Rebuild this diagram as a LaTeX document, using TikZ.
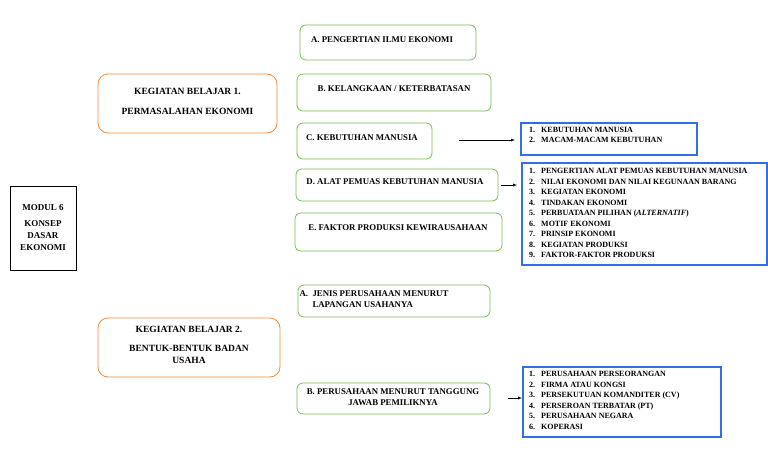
\documentclass[tikz,border=0pt]{standalone}
\usepackage{fontspec}
\setmainfont{Liberation Serif}
\definecolor{gb}{RGB}{120,190,80}
\definecolor{ob}{RGB}{240,140,60}
\definecolor{bb}{RGB}{50,110,230}
\begin{document}
\begin{tikzpicture}[x=1pt,y=-1pt,
  g/.style={draw=gb,line width=0.8pt,rounded corners=6pt},
  o/.style={draw=ob,line width=0.8pt,rounded corners=10pt},
  bl/.style={draw=bb,line width=1.2pt},
  t/.style={font=\fontsize{8.8}{11}\selectfont\bfseries,align=center},
  ls/.style={font=\fontsize{8}{10.5}\selectfont\bfseries,align=left,anchor=north west,inner sep=0pt},
  ar/.style={-latex,line width=0.4pt}]
\useasboundingbox (0,0) rectangle (768,466);
\fill[white] (0,0) rectangle (768,466);
\draw[line width=0.8pt] (10,186) rectangle (76,270);
\node[t,font=\fontsize{9}{12}\selectfont\bfseries] (m) at (43,228) {MODUL 6\\[4pt]KONSEP\\DASAR\\EKONOMI};
\draw[o] (98,74) rectangle (277,133);
\node[t,font=\fontsize{9.5}{20}\selectfont\bfseries] (k1) at (187.5,101) {KEGIATAN BELAJAR 1.\\PERMASALAHAN EKONOMI};
\draw[o] (98,318) rectangle (280,377);
\node[t,font=\fontsize{9.5}{12}\selectfont\bfseries] (k2) at (189,345) {KEGIATAN BELAJAR 2.\\[7pt]BENTUK-BENTUK BADAN\\USAHA};
\draw[g] (300,25) rectangle (476,60);
\node[t] (a) at (382,40) {A. PENGERTIAN ILMU EKONOMI};
\draw[g] (297,74) rectangle (491,111);
\node[t] (b) at (394,89) {B. KELANGKAAN / KETERBATASAN};
\draw[g] (297,123) rectangle (432,159);
\node[t] (c) at (362,138) {C. KEBUTUHAN MANUSIA};
\draw[g] (296,169) rectangle (498,201);
\node[t] (d) at (395,182) {D. ALAT PEMUAS KEBUTUHAN MANUSIA};
\draw[g] (295,213) rectangle (502,251);
\node[t] (e) at (398,228) {E. FAKTOR PRODUKSI KEWIRAUSAHAAN};
\draw[g] (298,285) rectangle (490,317);
\node[t,align=left] (ja) at (374,299) {A.\ \ JENIS PERUSAHAAN MENURUT\\\phantom{A.\ \ }LAPANGAN USAHANYA};
\draw[g] (297,383) rectangle (490,414);
\node[t] (pb) at (393,397) {B. PERUSAHAAN MENURUT TANGGUNG\\JAWAB PEMILIKNYA};
\draw[bl] (521,123) rectangle (697,155);
\node[ls] (lc) at (529,127) {1.\ \ \ KEBUTUHAN MANUSIA\\2.\ \ \ MACAM-MACAM KEBUTUHAN};
\draw[bl] (522,163) rectangle (767,265);
\node[ls] (ld) at (529,168) {1.\ \ \ PENGERTIAN ALAT PEMUAS KEBUTUHAN MANUSIA\\2.\ \ \ NILAI EKONOMI DAN NILAI KEGUNAAN BARANG\\3.\ \ \ KEGIATAN EKONOMI\\4.\ \ \ TINDAKAN EKONOMI\\5.\ \ \ PERBUATAAN PILIHAN (\textit{ALTERNATIF})\\6.\ \ \ MOTIF EKONOMI\\7.\ \ \ PRINSIP EKONOMI\\8.\ \ \ KEGIATAN PRODUKSI\\9.\ \ \ FAKTOR-FAKTOR PRODUKSI};
\draw[bl] (523,367) rectangle (721,437);
\node[ls] (lb) at (529,371) {1.\ \ \ PERUSAHAAN PERSEORANGAN\\2.\ \ \ FIRMA ATAU KONGSI\\3.\ \ \ PERSEKUTUAN KOMANDITER (CV)\\4.\ \ \ PERSEROAN TERBATAR (PT)\\5.\ \ \ PERUSAHAAN NEGARA\\6.\ \ \ KOPERASI};
\coordinate (c1) at (459,140); \coordinate (c2) at (515,140);
\draw[ar] (c1) -- (c2);
\coordinate (d1) at (501,185); \coordinate (d2) at (517,185);
\draw[ar] (d1) -- (d2);
\coordinate (b1) at (508,398); \coordinate (b2) at (522,398);
\draw[ar] (b1) -- (b2);
\end{tikzpicture}
\end{document}
